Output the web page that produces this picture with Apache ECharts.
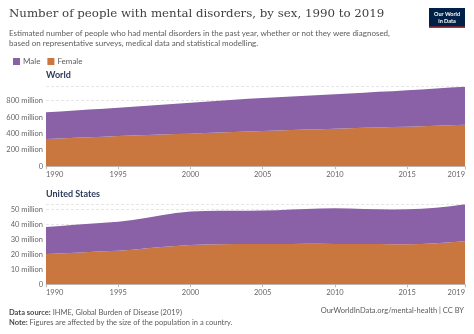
<!DOCTYPE html>
<html>
<head>
<meta charset="utf-8">
<script src="https://cdn.jsdelivr.net/npm/echarts@6/dist/echarts.min.js"></script>
<style>html,body{margin:0;padding:0;background:#fff}#c{width:474px;height:334px}</style>
</head>
<body>
<div id="c"></div>
<script>
const years = [1990,1991,1992,1993,1994,1995,1996,1997,1998,1999,2000,2001,2002,2003,2004,2005,2006,2007,2008,2009,2010,2011,2012,2013,2014,2015,2016,2017,2018,2019];
// World, millions
const worldFemale = [333,340,347,354,361,369,375,381,387,393,398,405,411,418,424,430,436,442,448,453,459,464,469,474,478,483,489,495,501,507];
const worldMale = [325,329,333,338,342,346,352,358,364,370,378,383,389,394,399,404,407,410,413,416,419,424,429,434,439,444,449,454,459,464];
// United States, millions
const usFemale = [20.2,20.6,21.1,21.5,22.0,22.4,23.1,24.0,24.8,25.6,26.2,26.5,26.7,26.8,26.8,26.9,26.9,26.9,27.0,27.0,26.9,26.9,26.8,26.8,26.7,26.7,26.9,27.3,28.0,28.7];
const usMale = [18.0,18.3,18.5,18.8,19.0,19.3,19.7,20.3,21.2,21.9,22.3,22.4,22.3,22.2,22.2,22.2,22.5,22.9,23.2,23.5,23.7,23.6,23.4,23.2,23.2,23.3,23.5,23.7,24.0,24.6];
const xTicks = ['1990','1995','2000','2005','2010','2015','2019'];

const MALE = '#8a60a6', FEMALE = '#c9763f';
const FONT = 'Lato';
const yFmt = v => v === 0 ? '0' : v + ' million';
const showTick = (i, v) => xTicks.indexOf(String(v)) >= 0;

function xAxis(gi) {
  return {
    type: 'category', gridIndex: gi, data: years.map(String), boundaryGap: false,
    axisLine: {show: true, lineStyle: {color: '#bbb', width: 1}},
    axisTick: {show: true, length: 3, interval: showTick, lineStyle: {color: '#bbb'}},
    splitLine: {show: false},
    axisLabel: {color: '#666', fontSize: 7.5, fontFamily: FONT, margin: 4, interval: showTick,
      alignMinLabel: 'left', alignMaxLabel: 'right'}
  };
}
function yAxis(gi, interval, maxV) {
  return {
    type: 'value', gridIndex: gi, min: 0, max: maxV, interval: interval,
    axisLine: {show: false}, axisTick: {show: false},
    splitLine: {show: true, lineStyle: {color: '#e6e6e6', type: [3, 2], width: 1}},
    axisLabel: {color: '#666', fontSize: 7.5, fontFamily: FONT, margin: 3, showMaxLabel: false,
      formatter: yFmt}
  };
}
function area(name, data, gi, stack, color) {
  return {
    name: name, type: 'line', xAxisIndex: gi, yAxisIndex: gi, stack: stack,
    data: data, symbol: 'none', showSymbol: false, smooth: false,
    lineStyle: {width: 0}, areaStyle: {color: color, opacity: 1},
    itemStyle: {color: color}, silent: true, animation: false
  };
}
const worldMax = Math.max(...worldFemale.map((v, i) => v + worldMale[i]));
const usMax = Math.max(...usFemale.map((v, i) => v + usMale[i]));

const chart = echarts.init(document.getElementById('c'), null, {renderer: 'canvas'});
chart.setOption({
  animation: false,
  backgroundColor: '#fff',
  grid: [
    {left: 46, right: 9, top: 86.7, height: 79.6},
    {left: 46, right: 9, top: 204.3, height: 80}
  ],
  xAxis: [xAxis(0), xAxis(1)],
  yAxis: [yAxis(0, 200, worldMax), yAxis(1, 10, usMax)],
  legend: {
    data: ['Male', 'Female'], left: 8, top: 52.5, icon: 'rect', itemWidth: 7, itemHeight: 7,
    itemGap: 7, selectedMode: false,
    textStyle: {fontSize: 8, color: '#5b5b5b', fontFamily: FONT, padding: [0, 0, 0, -2]}
  },
  series: [
    area('Female', worldFemale, 0, 'w', FEMALE),
    area('Male', worldMale, 0, 'w', MALE),
    area('Female', usFemale, 1, 'u', FEMALE),
    area('Male', usMale, 1, 'u', MALE)
  ],
  graphic: [
    {type: 'text', left: 9, top: 7.5, style: {text: 'Number of people with mental disorders, by sex, 1990 to 2019',
      font: '11.8px "DejaVu Serif"', fill: '#3f3f3f'}},
    {type: 'text', left: 9, top: 29, style: {text: 'Estimated number of people who had mental disorders in the past year, whether or not they were diagnosed,\nbased on representative surveys, medical data and statistical modelling.',
      font: '8px Lato', fill: '#5b5b5b', lineHeight: 9.3}},
    {type: 'text', left: 46, top: 71, style: {text: 'World', font: 'bold 9px Lato', fill: '#2c3b58'}},
    {type: 'text', left: 46, top: 189.5, style: {text: 'United States', font: 'bold 9px Lato', fill: '#2c3b58'}},
    {type: 'rect', shape: {x: 429, y: 8, width: 36, height: 20}, style: {fill: '#002147'}},
    {type: 'rect', shape: {x: 429, y: 26.5, width: 36, height: 1.5}, style: {fill: '#ce261e'}},
    {type: 'text', x: 447, y: 11, style: {text: 'Our World\nin Data', font: 'bold 5.5px Lato', fill: '#fff', align: 'center', lineHeight: 6.5}},
    {type: 'text', left: 9, top: 307, style: {
      text: '{b|Data source:} IHME, Global Burden of Disease (2019)\n{b|Note:} Figures are affected by the size of the population in a country.',
      font: '7.5px Lato', fill: '#5b5b5b', lineHeight: 10.6,
      rich: {b: {fontWeight: 'bold', fontSize: 7.5, fontFamily: FONT, fill: '#4a4a4a'}}}},
    {type: 'text', right: 10, top: 307, style: {text: 'OurWorldInData.org/mental-health | CC BY',
      font: '7.5px Lato', fill: '#5b5b5b'}}
  ]
});
</script>
</body>
</html>
